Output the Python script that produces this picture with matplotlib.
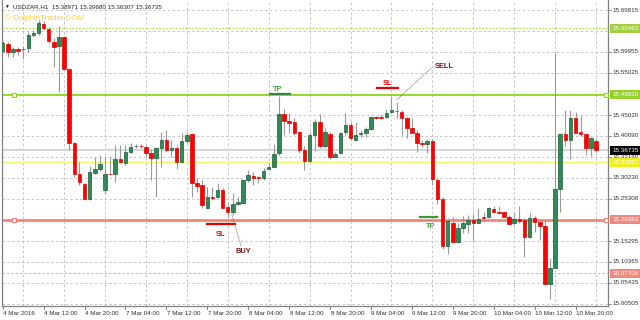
import matplotlib
matplotlib.use('Agg')
import matplotlib.pyplot as plt
import numpy as np

plt.rcParams['font.family'] = ['Liberation Sans', 'DejaVu Sans']

# ---------------- data (USDZAR, H1) ----------------
opens = [15.6014, 15.6180, 15.5991, 15.6062, 15.6050, 15.6085, 15.6392, 15.6439, 15.6652, 15.6534,
 15.6227, 15.6132, 15.6345, 15.5590, 15.3843, 15.3112, 15.2876, 15.2522, 15.3135, 15.3230,
 15.2734, 15.3112, 15.3112, 15.3466, 15.3371, 15.3631, 15.3772, 15.3772, 15.3749, 15.3607,
 15.3489, 15.3725, 15.3914, 15.3678, 15.3725, 15.3395, 15.3890, 15.4056, 15.2899, 15.2852,
 15.2309, 15.2569, 15.2569, 15.2734, 15.2333, 15.2215, 15.2404, 15.2427, 15.2970, 15.3064,
 15.3041, 15.3017, 15.3230, 15.3277, 15.3607, 15.4528, 15.4362, 15.4339, 15.4103, 15.3678,
 15.3418, 15.4032, 15.4339, 15.3772, 15.4056, 15.3513, 15.3607, 15.4103, 15.4268, 15.3914,
 15.4056, 15.4079, 15.4174, 15.4457, 15.4457, 15.4457, 15.4575, 15.4598, 15.4575, 15.4433,
 15.4197, 15.4079, 15.3843, 15.3820, 15.3890, 15.2970, 15.2522, 15.1412, 15.1955, 15.1507,
 15.1837, 15.1932, 15.2026, 15.1955, 15.2097, 15.2097, 15.2286, 15.2215, 15.2215, 15.2097,
 15.1955, 15.2050, 15.2026, 15.1625, 15.2073, 15.1979, 15.1884, 15.0516, 15.0893, 15.2758,
 15.4056, 15.3914, 15.4433, 15.4103, 15.4056, 15.3725, 15.38971]

highs = [15.6250, 15.6227, 15.6109, 15.6109, 15.6132, 15.6463, 15.6510, 15.6746, 15.6722, 15.6581,
 15.6321, 15.6604, 15.6368, 15.5613, 15.3867, 15.3395, 15.2899, 15.3300, 15.3513, 15.3560,
 15.3513, 15.3513, 15.3796, 15.3796, 15.3796, 15.3843, 15.3820, 15.3820, 15.3796, 15.3702,
 15.3749, 15.4103, 15.4150, 15.3914, 15.3796, 15.4079, 15.4103, 15.4079, 15.3017, 15.2970,
 15.2805, 15.2805, 15.2899, 15.2781, 15.2427, 15.2663, 15.2569, 15.2994, 15.3206, 15.3159,
 15.3064, 15.3253, 15.3371, 15.3820, 15.4952, 15.4646, 15.4551, 15.4433, 15.4126, 15.3772,
 15.4103, 15.4410, 15.4528, 15.4197, 15.4103, 15.3631, 15.4103, 15.4551, 15.4339, 15.4339,
 15.4150, 15.4221, 15.4480, 15.4480, 15.4504, 15.4646, 15.4929, 15.4811, 15.4622, 15.4457,
 15.4433, 15.4150, 15.3914, 15.3938, 15.3938, 15.3017, 15.2569, 15.2073, 15.2097, 15.1955,
 15.2120, 15.2144, 15.2168, 15.2309, 15.2215, 15.2333, 15.2356, 15.2356, 15.2238, 15.2144,
 15.2191, 15.2356, 15.2073, 15.2191, 15.2120, 15.2026, 15.2026, 15.1129, 15.5967, 15.4079,
 15.4622, 15.4622, 15.4575, 15.4480, 15.4079, 15.3985, 15.39680]

lows = [15.5967, 15.5873, 15.5873, 15.5920, 15.5826, 15.5991, 15.6345, 15.6392, 15.6510, 15.6203,
 15.5637, 15.5047, 15.5566, 15.3678, 15.3041, 15.2852, 15.2498, 15.2498, 15.3112, 15.3182,
 15.2640, 15.3088, 15.2923, 15.3371, 15.3324, 15.3607, 15.3725, 15.3725, 15.3513, 15.2970,
 15.2569, 15.3277, 15.3631, 15.3513, 15.3230, 15.3371, 15.3843, 15.2569, 15.2687, 15.2309,
 15.2309, 15.2498, 15.2545, 15.2309, 15.2097, 15.2144, 15.2380, 15.2427, 15.2923, 15.2852,
 15.2899, 15.2970, 15.3206, 15.3277, 15.3560, 15.4032, 15.4079, 15.4032, 15.3607, 15.3206,
 15.3395, 15.3654, 15.3725, 15.3725, 15.3466, 15.3513, 15.3584, 15.4032, 15.3914, 15.3890,
 15.3985, 15.3985, 15.4150, 15.4410, 15.4410, 15.4433, 15.4551, 15.4433, 15.4032, 15.3961,
 15.4079, 15.3631, 15.3749, 15.3607, 15.2852, 15.2404, 15.1342, 15.1224, 15.1483, 15.1483,
 15.1719, 15.1719, 15.1530, 15.1955, 15.1979, 15.2073, 15.2191, 15.2168, 15.2097, 15.1908,
 15.1908, 15.1955, 15.1153, 15.1601, 15.1743, 15.1554, 15.0492, 15.0162, 15.0893, 15.2215,
 15.3772, 15.3466, 15.4079, 15.4008, 15.3560, 15.3536, 15.36307]

closes = [15.6203, 15.5991, 15.6062, 15.6014, 15.6062, 15.6392, 15.6439, 15.6675, 15.6557, 15.6250,
 15.6109, 15.6345, 15.5590, 15.3843, 15.3112, 15.2923, 15.2522, 15.3159, 15.3230, 15.3348,
 15.3112, 15.3100, 15.3466, 15.3395, 15.3631, 15.3749, 15.3775, 15.3761, 15.3607, 15.3489,
 15.3725, 15.3914, 15.3678, 15.3725, 15.3395, 15.3890, 15.4032, 15.2899, 15.2828, 15.2380,
 15.2569, 15.2557, 15.2734, 15.2309, 15.2215, 15.2404, 15.2451, 15.2970, 15.3088, 15.3017,
 15.3029, 15.3182, 15.3277, 15.3584, 15.4528, 15.4362, 15.4315, 15.4079, 15.3678, 15.3418,
 15.4032, 15.4339, 15.3772, 15.4103, 15.3513, 15.3584, 15.4079, 15.4268, 15.3961, 15.4032,
 15.4079, 15.4174, 15.4457, 15.4445, 15.4433, 15.4551, 15.4622, 15.4587, 15.4433, 15.4197,
 15.4079, 15.3843, 15.3820, 15.3890, 15.2994, 15.2522, 15.1412, 15.2002, 15.1507, 15.1837,
 15.1955, 15.2026, 15.1955, 15.2050, 15.2085, 15.2309, 15.2215, 15.2203, 15.2097, 15.1932,
 15.2050, 15.2002, 15.1625, 15.2073, 15.1979, 15.1884, 15.0516, 15.0893, 15.2758, 15.4056,
 15.3914, 15.4433, 15.4079, 15.4056, 15.3725, 15.3961, 15.36735]

time_labels = ["4 Mar 2016", "4 Mar 12:00", "4 Mar 20:00", "7 Mar 04:00", "7 Mar 12:00",
               "7 Mar 20:00", "8 Mar 04:00", "8 Mar 12:00", "8 Mar 20:00", "9 Mar 04:00",
               "9 Mar 12:00", "9 Mar 20:00", "10 Mar 04:00", "10 Mar 12:00", "10 Mar 20:00"]
bars_per_label = 8

price_ticks = [15.00505, 15.05435, 15.10365, 15.15295, 15.25300, 15.30230, 15.35160,
               15.40090, 15.45020, 15.55025, 15.59955, 15.69815]
hidden_grid = [15.20225, 15.50095, 15.64885]

# horizontal levels: value
level_tp_top = 15.65463
level_green = 15.49830
level_bid = 15.36735
level_yellow = 15.33897
level_red = 15.20363
level_red_dot = 15.07709

symbol = "USDZAR,H1"
watermark = "\u00a9 DolphinTrader.COM"

# trade marks: (bar index, price)
buy_bar, buy_price = 45, 15.2191
buy_sl = 15.1925
buy_tp = 15.4988
sell_bar, sell_price = 77, 15.4858
sell_sl = 15.5148
sell_tp = 15.2104

# ---------------- figure ----------------
W, H = 640, 320
fig = plt.figure(figsize=(W / 100, H / 100), dpi=100)
fig.patch.set_facecolor('white')
ax_l, ax_r, ax_b, ax_t = 2, 608, 14, 320
ax = fig.add_axes([ax_l / W, ax_b / H, (ax_r - ax_l) / W, (ax_t - ax_b) / H])

o = np.array(opens); h = np.array(highs); l = np.array(lows); c = np.array(closes)
n = len(o)
x = np.arange(n)

ax.set_xlim(-0.137, 118.34)
ax.set_ylim(14.99964, 15.7218)

# grid
grid_kw = dict(color='#c4c4c4', lw=0.7, ls=(0, (2.5, 2.5)), zorder=0)
for v in list(price_ticks) + hidden_grid:
    ax.axhline(v, **grid_kw)
for gx in range(bars_per_label // 2, n, bars_per_label):
    ax.axvline(gx, **grid_kw)

# level lines
ax.axhline(level_tp_top, color='#a8d84a', lw=0.8, ls=(0, (1.5, 1.5)), zorder=1)
ax.axhline(level_green, color='#8cd81a', lw=1.3, zorder=1)
ax.axhline(level_bid, color='#d6d6d6', lw=1.5, zorder=1)
ax.axhline(level_yellow, color='#f2f070', lw=0.9, zorder=1)
ax.axhline(level_red, color='#f5a095', lw=2.2, zorder=1)
ax.axhline(level_red, color='#ef7f72', lw=1.0, zorder=1)
ax.axhline(level_red_dot, color='#f4a398', lw=0.8, ls=(0, (2, 2)), zorder=1)
for lv, col in [(level_green, '#8cd81a'), (level_red, '#ef7f72')]:
    ax.plot([0.02, 0.997], [lv, lv], transform=ax.get_yaxis_transform(), ls='none',
            marker='s', ms=2.6, mfc='white', mec=col, mew=0.8, zorder=4, clip_on=False)

# candles
ax.vlines(x, l, h, color='#9a9a9a', lw=0.8, zorder=2)
bottom = np.minimum(o, c)
height = np.maximum(np.abs(c - o), 0.0010)
up = c >= o
ax.bar(x[up], height[up], bottom=bottom[up], width=0.68, color='#2e8b57',
       edgecolor='#1b5a37', lw=0.5, zorder=3)
ax.bar(x[~up], height[~up], bottom=bottom[~up], width=0.68, color='#ff0000',
       edgecolor='#dd0000', lw=0.5, zorder=3)

# trade annotations
red = '#e60000'; tpgreen = '#3aaa3a'; maroon = '#7a1414'
ax.plot([52.3, 56.2], [buy_tp, buy_tp], color='#2e8b3e', lw=1.6, zorder=5)
ax.text(53.7, buy_tp + 0.0115, "TP", color=tpgreen, fontsize=5.3, fontweight='bold',
        ha='center', va='center', zorder=6)
ax.plot([buy_bar - 5.1, buy_bar + 0.4], [buy_sl, buy_sl], color=red, lw=1.6, zorder=5)
ax.text(buy_bar - 2.5, buy_sl - 0.025, "SL", color=red, fontsize=5.3, fontweight='bold',
        ha='center', va='center', zorder=6)
ax.plot([buy_bar - 0.2, buy_bar + 1.6], [buy_price - 0.004, 15.1412], color='#8a4a4a',
        lw=0.6, ls=(0, (1, 1)), zorder=5)
ax.text(buy_bar + 2.1, 15.1283, "BUY", color=maroon, fontsize=5.3, fontweight='bold',
        ha='center', va='center', zorder=6)

ax.plot([sell_bar - 3.9, sell_bar + 0.2], [sell_sl, sell_sl], color=red, lw=1.6, zorder=5)
ax.text(sell_bar - 1.8, sell_sl + 0.011, "SL", color=red, fontsize=5.3, fontweight='bold',
        ha='center', va='center', zorder=6)
ax.plot([sell_bar, sell_bar + 6.8], [sell_price, 15.5613], color='#8a4a4a',
        lw=0.6, ls=(0, (1, 1)), zorder=5)
ax.text(sell_bar + 9.4, 15.5660, "SELL", color=maroon, fontsize=5.3, fontweight='bold',
        ha='center', va='center', zorder=6)
ax.plot([81.6, 84.9], [sell_tp, sell_tp], color='#3a9a3a', lw=1.6, zorder=5)
ax.text(83.6, sell_tp - 0.023, "TP", color=tpgreen, fontsize=5.3, fontweight='bold',
        ha='center', va='center', zorder=6)

# spines
for s in ['top']:
    ax.spines[s].set_visible(False)
for s in ['left', 'bottom', 'right']:
    ax.spines[s].set_color('#808080')
    ax.spines[s].set_linewidth(0.9)
ax.set_xticks([]); ax.set_yticks([])

# x labels
tx = ax.get_xaxis_transform()
for k, lab in enumerate(time_labels):
    xi = k * bars_per_label
    ax.plot([xi, xi], [0, -0.009], transform=tx, color='#808080', lw=0.7, clip_on=False)
    ax.text(xi + 0.1, -0.024, lab, transform=tx, fontsize=4.5, color='#303030',
            ha='left', va='center', clip_on=False)

# y labels
ty = ax.get_yaxis_transform()
xl = 1 + 4 / (ax_r - ax_l)
for v in price_ticks:
    ax.text(xl, v, f"{v:.5f}", transform=ty, fontsize=4.5, color='#303030',
            ha='left', va='center', clip_on=False)
    ax.plot([1, 1 + 2.5 / (ax_r - ax_l)], [v, v], transform=ty, color='#808080', lw=0.6,
            clip_on=False)

def boxed(v, fc, tc='white'):
    ax.text(xl, v, f"{v:.5f}", transform=ty, fontsize=4.5, color=tc, ha='left',
            va='center', clip_on=False, zorder=10,
            bbox=dict(boxstyle='square,pad=0.32', fc=fc, ec='none'))

boxed(level_tp_top, '#a3cf3e')
boxed(level_green, '#96d22a')
boxed(level_bid, '#000000')
boxed(level_yellow, '#f2ee1e')
boxed(level_red, '#f08a7e')
boxed(level_red_dot, '#f08a7e')

# header
fig.text(6 / W, 1 - 6.5 / H, "\u25bc", fontsize=3.5, color='#202020', ha='center', va='center')
hdr = f"{symbol}  {opens[-1]:.5f} {highs[-1]:.5f} {lows[-1]:.5f} {closes[-1]:.5f}"
fig.text(13 / W, 1 - 6.5 / H, hdr, fontsize=4.5, color='#202020', ha='left', va='center')
fig.text(5 / W, 1 - 18.5 / H, watermark, fontsize=5.8, color='#f3d34a', ha='left', va='center')

fig.savefig('out.png', dpi=100, facecolor='white')
